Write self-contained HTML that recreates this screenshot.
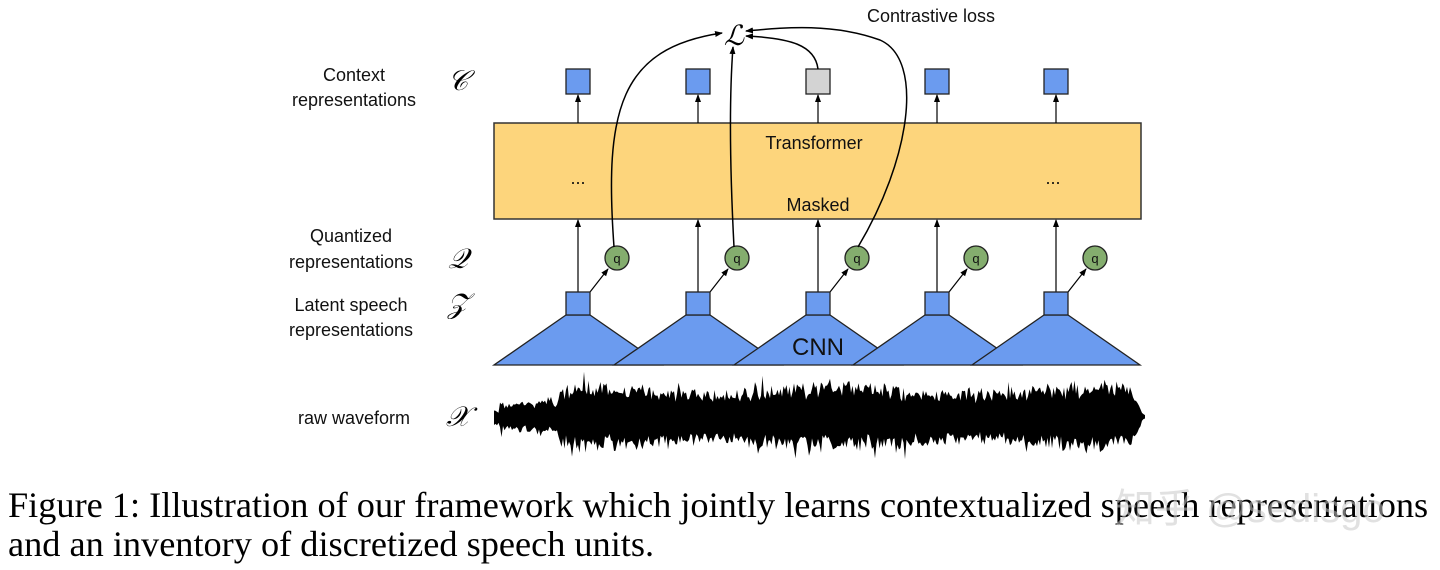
<!DOCTYPE html>
<html><head><meta charset="utf-8"><style>
html,body{margin:0;padding:0;background:#fff;width:1440px;height:570px;overflow:hidden}
svg{position:absolute;left:0;top:0}
.cap{position:absolute;left:8px;font-family:"Liberation Serif",serif;font-size:36.3px;color:#000;white-space:nowrap}
</style></head><body>
<svg width="1440" height="570" viewBox="0 0 1440 570" xmlns="http://www.w3.org/2000/svg">
<defs>
<marker id="a" markerWidth="8" markerHeight="8" refX="7" refY="4" orient="auto" markerUnits="userSpaceOnUse"><path d="M0,1 L8,4 L0,7 Z" fill="#000"/></marker>
</defs>
<g font-family="Liberation Sans, sans-serif" font-size="18" fill="#111" text-anchor="middle">
<text x="354" y="81">Context</text><text x="354" y="106">representations</text>
<text x="351" y="242">Quantized</text><text x="351" y="268">representations</text>
<text x="351" y="311">Latent speech</text><text x="351" y="336">representations</text>
<text x="354" y="424">raw waveform</text>
<text x="931" y="22">Contrastive loss</text>
</g>
<g font-family="Liberation Serif, DejaVu Serif, serif" font-style="italic" font-size="28" fill="#000" text-anchor="middle">
<text x="458" y="90">𝒞</text><text x="458" y="268">𝒬</text><text x="458" y="313">𝒵</text><text x="458" y="426">𝒳</text>
<text x="734" y="45">ℒ</text>
</g>
<rect x="494" y="123" width="647" height="96" fill="#fdd57c" stroke="#333" stroke-width="1.5"/>
<g font-family="Liberation Sans, sans-serif" font-size="18" fill="#111" text-anchor="middle">
<text x="814" y="149">Transformer</text><text x="818" y="211">Masked</text>
<text x="578" y="184">...</text><text x="1053" y="184">...</text>
</g>
<g id="cols"></g>
<g fill="none" stroke="#000" stroke-width="1.5">
<path d="M614,247 C604,110 620,48 722,33" marker-end="url(#a)"/>
<path d="M734,247 C730,170 729,100 733,47" marker-end="url(#a)"/>
<path d="M818,69 C815,45 790,38 746,36" marker-end="url(#a)"/>
<path d="M858,247 C910,160 925,60 880,40 C830,22 780,28 746,31" marker-end="url(#a)"/>
</g>
<path id="wave" fill="#000"/>
<g id="tris"></g>
</svg>
<div class="cap" style="top:484px">Figure 1: Illustration of our framework which jointly learns contextualized speech representations</div>
<div class="cap" style="top:523px">and an inventory of discretized speech units.</div>
<div style="position:absolute;left:1115px;top:476px;font-family:'Liberation Sans','Noto Sans CJK SC',sans-serif;font-size:40px;color:rgba(200,200,200,0.55);white-space:nowrap">知乎 @sedisgo</div>
<script>
(function(){
var ns="http://www.w3.org/2000/svg";
function el(t,a,p){var e=document.createElementNS(ns,t);for(var k in a)e.setAttribute(k,a[k]);p.appendChild(e);return e;}
var cols=document.getElementById('cols'),tris=document.getElementById('tris');
var xs=[578,698,818,937,1056];
xs.forEach(function(x,i){
 el('rect',{x:x-12,y:69,width:24,height:25,fill:i==2?'#d3d3d3':'#6b9bef',stroke:'#222','stroke-width':1.3},cols);
 el('line',{x1:x,y1:123,x2:x,y2:95,stroke:'#000','stroke-width':1.2,'marker-end':'url(#a)'},cols);
 el('line',{x1:x,y1:292,x2:x,y2:220,stroke:'#000','stroke-width':1.2,'marker-end':'url(#a)'},cols);
 el('line',{x1:x+12,y1:292,x2:x+30,y2:269,stroke:'#000','stroke-width':1.2,'marker-end':'url(#a)'},cols);
 el('ellipse',{cx:x+39,cy:258,rx:12,ry:12,fill:'#84ad6e',stroke:'#222','stroke-width':1.3},cols);
 var t=el('text',{x:x+39,y:263,'font-family':'Liberation Sans, sans-serif','font-size':13,'text-anchor':'middle',fill:'#111'},cols);t.textContent='q';
});
xs.forEach(function(x,i){
 el('polygon',{points:(x-12)+',315 '+(x+12)+',315 '+(x+84)+',365 '+(x-84)+',365',fill:'#6b9bef',stroke:'#222','stroke-width':1.3},tris);
 el('rect',{x:x-12,y:292,width:24,height:23,fill:'#6b9bef',stroke:'#222','stroke-width':1.3},tris);
});
var t=el('text',{x:818,y:355,'font-family':'Liberation Sans, sans-serif','font-size':24,'text-anchor':'middle',fill:'#111'},tris);t.textContent='CNN';
var s=12345;function r(){s=(s*16807)%2147483647;return s/2147483647;}
var up=[],dn=[];
for(var x=494;x<=1145;x+=1.5){
 var a;
 if(x<500)a=6; else if(x<560)a=12+(x-500)*0.06; else if(x<1130)a=27+3*Math.sin(x/41); else a=Math.max(2,27*(1145-x)/15);
 var u=a*(0.55+0.45*r()+0.25*r()), d=a*(0.55+0.45*r()+0.25*r());
 if(r()<0.06)u*=1.35; if(r()<0.06)d*=1.35;
 up.push(x.toFixed(1)+','+(417-u).toFixed(1)); dn.unshift(x.toFixed(1)+','+(417+d).toFixed(1));
}
document.getElementById('wave').setAttribute('d','M'+up.join(' L')+' L'+dn.join(' L')+' Z');
})();
</script>
</body></html>
